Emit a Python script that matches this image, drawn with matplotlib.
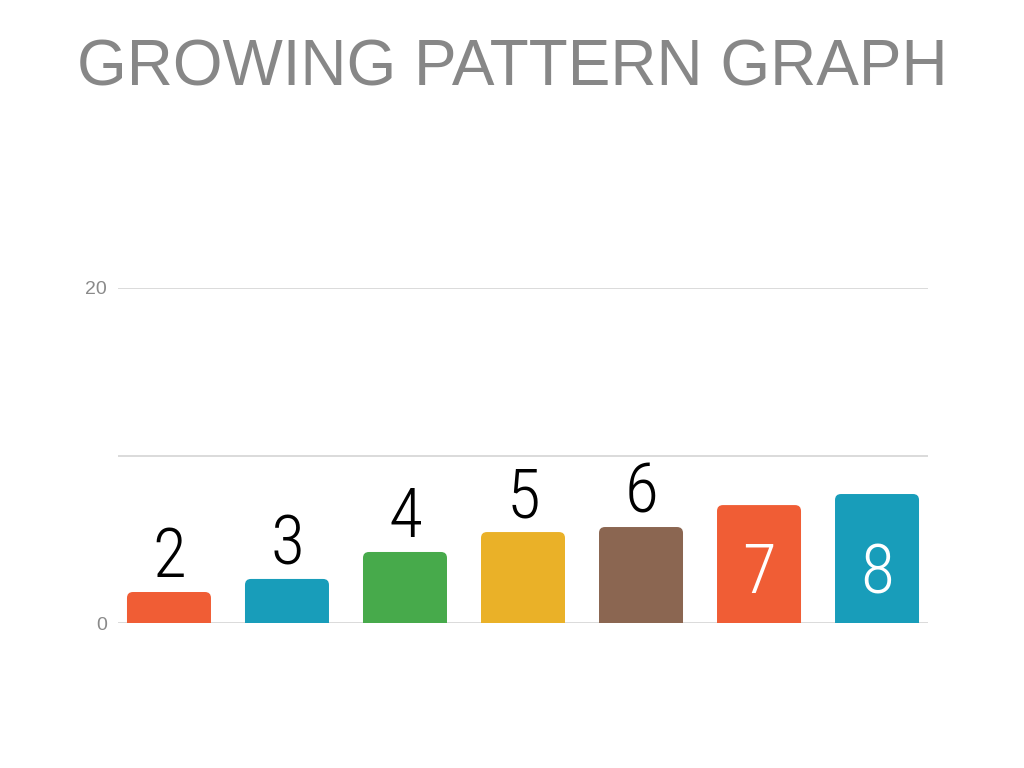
import matplotlib
matplotlib.use("Agg")
import matplotlib.pyplot as plt
from matplotlib.patches import FancyBboxPatch

# values
labels = ["2", "3", "4", "5", "6", "7", "8"]
values = [1.85, 2.63, 4.24, 5.43, 5.73, 7.04, 7.70]
colors = ["#F05D35", "#189DBA", "#47AA4B", "#EAB128", "#8B6651", "#F05D35", "#189DBA"]
label_inside = [False, False, False, False, False, True, True]

plt.rcParams["font.family"] = ["Liberation Sans", "DejaVu Sans"]
digit_font = ["Roboto Condensed", "DejaVu Sans"]

fig = plt.figure(figsize=(10.24, 7.68), dpi=100)
ax = fig.add_axes([118 / 1024, 1 - 623 / 768, 810 / 1024, 335 / 768])

ax.set_xlim(-0.432, 6.432)
ax.set_ylim(0, 20)

# px per data unit, for rounded corners
px_x = 810 / 6.864
px_y = 335 / 20
bar_w = 84 / px_x
rad = 6 / px_x

for i, (v, c) in enumerate(zip(values, colors)):
    # start below zero so only the top corners show rounded
    p = FancyBboxPatch((i - bar_w / 2, -2), bar_w, v + 2,
                       boxstyle="round,pad=0,rounding_size=%f" % rad,
                       mutation_aspect=px_x / px_y,
                       facecolor=c, edgecolor="none", zorder=3)
    ax.add_patch(p)

for i, (lab, v, inside) in enumerate(zip(labels, values, label_inside)):
    if inside:
        ax.text(i, 1.79, lab, ha="center", va="baseline", color="white",
                fontsize=50, family=digit_font, fontweight="light", zorder=4)
    else:
        ax.text(i, v + 0.87, lab, ha="center", va="baseline", color="black",
                fontsize=50, family=digit_font, fontweight="light", zorder=4)

ax.set_yticks([0, 10, 20])
ax.set_yticklabels(["0", "", "20"])
ax.set_xticks([])
ax.grid(axis="y", color="#d4d4d4", linewidth=1.2, zorder=0)
ax.tick_params(axis="y", length=0, pad=8, labelsize=14, labelcolor="#8a8a8a")
for s in ax.spines.values():
    s.set_visible(False)
ax.set_facecolor("white")

fig.text(0.5, 1 - 68 / 768, "GROWING PATTERN GRAPH", ha="center", va="center",
         fontsize=46, color="#878787")

fig.savefig("out.png", dpi=100, facecolor="white")
